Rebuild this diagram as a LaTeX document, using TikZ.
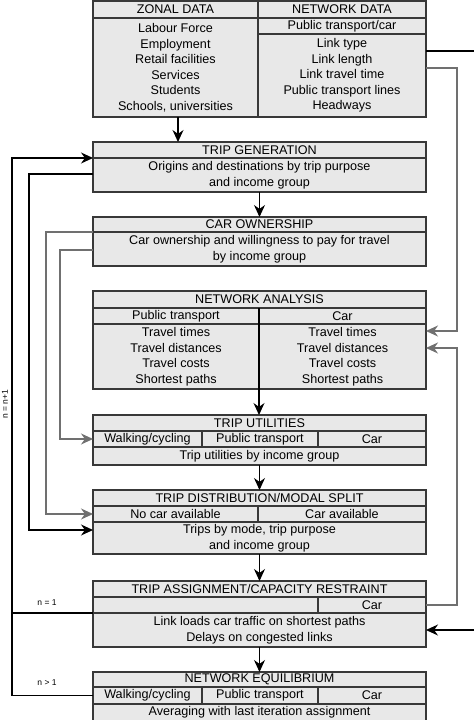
\documentclass[tikz,border=0pt]{standalone}
\usepackage{fontspec}
\setmainfont{Liberation Sans}
\usetikzlibrary{arrows.meta,calc}
\definecolor{fillc}{HTML}{E8E8E8}
\definecolor{bd}{HTML}{383838}
\definecolor{gl}{HTML}{707070}
\tikzset{
  cell/.style={draw=bd, fill=fillc, line width=1.1pt, inner sep=0pt, outer sep=0pt,
    anchor=north west, align=center, font=\fontsize{12.6}{15.5}\selectfont},
  conn/.style={draw=black, line width=1.1pt},
  gconn/.style={draw=gl, line width=1.1pt},
  arr/.style={-{Stealth[length=12pt,width=11pt]}},
  lab/.style={font=\fontsize{8.5}{9}\selectfont, inner sep=0pt}
}
\newcommand\mycell[6]{\node[cell, minimum width={#4-#2}, minimum height={#5-#3}] (#1) at (#2,#3) {#6};}
\begin{document}
\begin{tikzpicture}[x=1pt,y=-1pt]
\useasboundingbox (0,0) rectangle (474,720);
\clip (0,0) rectangle (474,720);
\fill[white] (0,0) rectangle (474,720);
% top box
\mycell{zh}{93}{1}{258}{18}{ZONAL DATA}
\mycell{nh}{258}{1}{426}{18}{NETWORK DATA}
\mycell{zb}{93}{18}{258}{117}{Labour Force\\Employment\\Retail facilities\\Services\\Students\\Schools, universities}
\mycell{npt}{258}{18}{426}{34}{Public transport/car}
\mycell{nb}{258}{34}{426}{117}{Link type\\Link length\\Link travel time\\Public transport lines\\Headways}
% trip generation
\mycell{th}{93}{142}{426}{158}{TRIP GENERATION}
\mycell{tb}{93}{158}{426}{192}{Origins and destinations by trip purpose\\and income group}
% car ownership
\mycell{ch}{93}{217}{426}{232}{CAR OWNERSHIP}
\mycell{cb}{93}{232}{426}{266}{Car ownership and willingness to pay for travel\\by income group}
% network analysis
\mycell{nah}{93}{291}{426}{308}{NETWORK ANALYSIS}
\mycell{nap}{93}{308}{259}{324}{Public transport}
\mycell{nac}{259}{308}{426}{324}{Car}
\mycell{nabl}{93}{324}{259}{389}{Travel times\\Travel distances\\Travel costs\\Shortest paths}
\mycell{nabr}{259}{324}{426}{389}{Travel times\\Travel distances\\Travel costs\\Shortest paths}
% trip utilities
\mycell{tuh}{93}{415}{426}{431}{TRIP UTILITIES}
\mycell{tuw}{93}{431}{202}{447}{Walking/cycling}
\mycell{tup}{202}{431}{318}{447}{Public transport}
\mycell{tuc}{318}{431}{426}{447}{Car}
\mycell{tub}{93}{447}{426}{465}{Trip utilities by income group}
% trip distribution
\mycell{tdh}{93}{490}{426}{506}{TRIP DISTRIBUTION/MODAL SPLIT}
\mycell{tdn}{93}{506}{258}{522}{No car available}
\mycell{tdc}{258}{506}{426}{522}{Car available}
\mycell{tdb}{93}{522}{426}{554}{Trips by mode, trip purpose\\and income group}
% trip assignment
\mycell{tah}{93}{581}{426}{597}{TRIP ASSIGNMENT/CAPACITY RESTRAINT}
\mycell{tae}{93}{597}{318}{613}{}
\mycell{tac}{318}{597}{426}{613}{Car}
\mycell{tab}{93}{613}{426}{647}{Link loads car traffic on shortest paths\\Delays on congested links}
% network equilibrium
\mycell{neh}{93}{672}{426}{687}{NETWORK EQUILIBRIUM}
\mycell{new}{93}{687}{202}{704}{Walking/cycling}
\mycell{nep}{202}{687}{318}{704}{Public transport}
\mycell{nec}{318}{687}{426}{704}{Car}
\mycell{neb}{93}{704}{426}{721}{Averaging with last iteration assignment}
% coordinates
\coordinate (xa) at (178,0);
\coordinate (xo) at (12,0);
\coordinate (x2) at (29,0);
\coordinate (x3) at (46,0);
\coordinate (x4) at (60,0);
\coordinate (xr) at (457,0);
\coordinate (re1) at (474,51);
\coordinate (re2) at (474,630);
% vertical flow arrows
\draw[conn,arr] (xa |- zb.south) -- (xa |- th.north);
\draw[conn,arr] (tb.south) -- (ch.north);
\draw[conn,arr] (nap.north east) -- (tuh.north -| nap.north east);
\draw[conn,arr] (tub.south) -- (tdh.north);
\draw[conn,arr] (tdb.south) -- (tah.north);
\draw[conn,arr] (tab.south) -- (neh.north);
% left feedback loops
\draw[conn,arr] (new.west) -- (xo |- new.west) -- (xo |- th.south west) -- (th.south west);
\draw[conn] (tab.north west) -- (xo |- tab.north west);
\draw[conn,arr] ($(tb.north west)+(0,16)$) -- ($(x2 |- tb.north west)+(0,16)$) -- ($(x2 |- tdb.north west)+(0,8)$) -- ($(tdb.north west)+(0,8)$);
\draw[gconn,arr] (ch.south west) -- (x3 |- ch.south west) -- (x3 |- tdn.west) -- (tdn.west);
\draw[gconn,arr] ($(cb.north west)+(0,18)$) -- ($(x4 |- cb.north west)+(0,18)$) -- (x4 |- tuw.west) -- (tuw.west);
% right side
\draw[conn] ($(nb.north east)+(0,17)$) -- (re1);
\draw[conn,arr] (re2) -- (tab.east);
\draw[gconn,arr] ($(nb.north east)+(0,34)$) -- ($(xr |- nb.north east)+(0,34)$) -- ($(xr |- nabr.north east)+(0,7)$) -- ($(nabr.north east)+(0,7)$);
\draw[gconn,arr] (tac.east) -- (xr |- tac.east) -- ($(xr |- nabr.north east)+(0,24)$) -- ($(nabr.north east)+(0,24)$);
% labels
\node[lab] (l1) at (47,603) {n = 1};
\node[lab] (l2) at (47,683) {n > 1};
\node[lab, rotate=90] (l3) at (5,404) {n = n+1};
\end{tikzpicture}
\end{document}
